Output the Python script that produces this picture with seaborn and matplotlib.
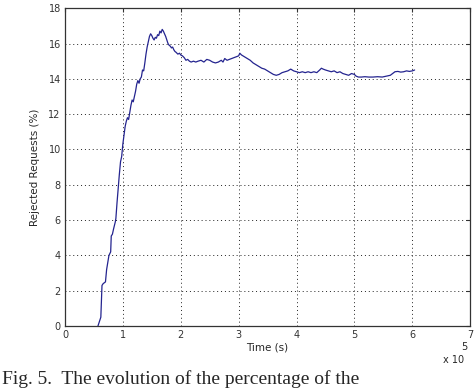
import numpy as np
import pandas as pd
import matplotlib
matplotlib.use('Agg')
import matplotlib.pyplot as plt
import seaborn as sns

# time in units of 1e5 s, rejected requests in %
time_e5 = [0.57, 0.60, 0.62, 0.64, 0.66, 0.70, 0.72, 0.76, 0.79, 0.80, 0.82, 0.84, 0.87, 0.88,
           0.90, 0.92, 0.94, 0.96, 0.98, 1.00, 1.02, 1.04, 1.06, 1.08, 1.10, 1.12, 1.14, 1.16,
           1.18, 1.20, 1.22, 1.24, 1.26, 1.28, 1.30, 1.32, 1.34, 1.36, 1.38, 1.40, 1.42, 1.44,
           1.46, 1.48, 1.50, 1.52, 1.54, 1.56, 1.58, 1.60, 1.62, 1.64, 1.66, 1.68, 1.70, 1.72,
           1.74, 1.76, 1.78, 1.80, 1.82, 1.84, 1.86, 1.88, 1.90, 1.92, 1.95, 1.98, 2.00, 2.03,
           2.06, 2.09, 2.12, 2.15, 2.18, 2.22, 2.26, 2.30, 2.35, 2.40, 2.45, 2.50, 2.55, 2.60,
           2.65, 2.70, 2.73, 2.76, 2.80, 2.84, 2.88, 2.92, 2.96, 3.00, 3.02, 3.05, 3.10, 3.15,
           3.20, 3.25, 3.30, 3.35, 3.40, 3.45, 3.50, 3.55, 3.60, 3.65, 3.70, 3.75, 3.80, 3.85,
           3.90, 3.95, 4.00, 4.05, 4.10, 4.15, 4.20, 4.25, 4.30, 4.35, 4.40, 4.43, 4.46, 4.50,
           4.55, 4.60, 4.65, 4.70, 4.75, 4.80, 4.85, 4.90, 4.95, 5.00, 5.03, 5.07, 5.12, 5.18,
           5.25, 5.32, 5.40, 5.48, 5.55, 5.62, 5.66, 5.70, 5.75, 5.80, 5.85, 5.90, 5.95, 6.00,
           6.04]
rejected = [0.0, 0.3, 0.5, 2.3, 2.4, 2.5, 3.2, 4.0, 4.2, 5.1, 5.2, 5.5, 5.9, 6.1,
            7.0, 7.8, 8.6, 9.3, 9.6, 10.3, 10.8, 11.3, 11.6, 11.8, 11.7, 12.1, 12.5, 12.8,
            12.7, 13.0, 13.3, 13.7, 13.9, 13.75, 14.0, 14.1, 14.5, 14.45, 14.9, 15.4, 15.8, 16.1,
            16.4, 16.55, 16.45, 16.3, 16.2, 16.35, 16.3, 16.5, 16.45, 16.7, 16.6, 16.8, 16.7, 16.55,
            16.4, 16.2, 16.0, 15.9, 15.85, 15.75, 15.8, 15.65, 15.55, 15.5, 15.4, 15.45, 15.35, 15.3,
            15.2, 15.05, 15.1, 15.0, 14.95, 15.0, 14.95, 15.0, 15.05, 14.95, 15.1, 15.05, 14.95, 14.9,
            14.95, 15.05, 14.95, 15.15, 15.05, 15.1, 15.15, 15.2, 15.25, 15.3, 15.45, 15.35, 15.25, 15.15,
            15.05, 14.9, 14.8, 14.7, 14.6, 14.55, 14.45, 14.35, 14.25, 14.2, 14.25, 14.35, 14.4, 14.45,
            14.55, 14.45, 14.4, 14.35, 14.4, 14.35, 14.4, 14.35, 14.4, 14.35, 14.5, 14.6, 14.55, 14.5,
            14.45, 14.4, 14.45, 14.35, 14.4, 14.3, 14.25, 14.2, 14.3, 14.25, 14.15, 14.1, 14.1, 14.12,
            14.1, 14.1, 14.12, 14.1, 14.15, 14.2, 14.3, 14.4, 14.42, 14.38, 14.4, 14.45, 14.42, 14.45,
            14.5]
x_ticks = [0, 1, 2, 3, 4, 5, 6, 7]
y_ticks = [0, 2, 4, 6, 8, 10, 12, 14, 16, 18]

df = pd.DataFrame({'time': np.array(time_e5) * 1e5, 'rejected': rejected})

sns.set_style('white')
plt.rcParams['font.family'] = ['DejaVu Sans']

fig = plt.figure(figsize=(4.74, 3.9), dpi=100)
ax = fig.add_axes([0.137, 0.164, 0.855, 0.815])

sns.lineplot(data=df, x='time', y='rejected', ax=ax, color='#24248f', linewidth=0.9)

ax.set_xlim(0, 7e5)
ax.set_ylim(0, 18)
ax.set_xticks([t * 1e5 for t in x_ticks])
ax.set_xticklabels([str(t) for t in x_ticks])
ax.set_yticks(y_ticks)
ax.set_yticklabels([str(t) for t in y_ticks])
ax.tick_params(direction='in', length=3, width=0.8, labelsize=7, top=True, right=True,
               colors='#333333', pad=3)
ax.grid(True, linestyle=(0, (1, 3)), color='#222222', linewidth=0.7)
for s in ax.spines.values():
    s.set_color('#333333')
    s.set_linewidth(0.9)

ax.set_xlabel('Time (s)', fontsize=7.5, labelpad=2)
ax.set_ylabel('Rejected Requests (%)', fontsize=7.5, labelpad=6)

fig.text(0.935, 0.065, 'x 10', fontsize=7, ha='left', va='bottom')
fig.text(0.973, 0.098, '5', fontsize=7, ha='left', va='bottom')

# caption (cut off in the source image), kept fully inside the canvas
fig.text(0.004, 0.004, 'Fig. 5.  The evolution of the percentage of the', fontsize=14,
         family='Liberation Serif', ha='left', va='bottom')

fig.savefig('out.png', dpi=100)
